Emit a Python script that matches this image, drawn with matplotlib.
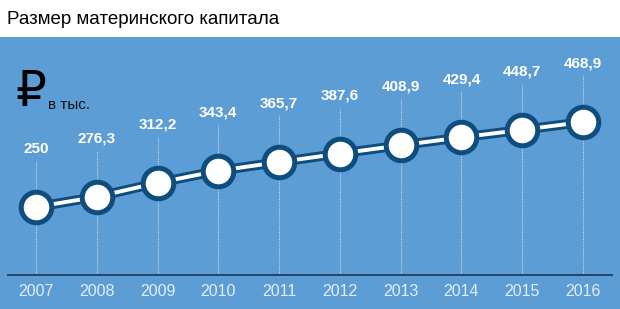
import numpy as np
import matplotlib
matplotlib.use("Agg")
import matplotlib.pyplot as plt

# данные
years = [2007, 2008, 2009, 2010, 2011, 2012, 2013, 2014, 2015, 2016]
values = [250, 276.3, 312.2, 343.4, 365.7, 387.6, 408.9, 429.4, 448.7, 468.9]
value_labels = ["250", "276,3", "312,2", "343,4", "365,7",
                "387,6", "408,9", "429,4", "448,7", "468,9"]

BLUE = "#5d9dd5"
NAVY = "#0f4d7e"
BASE = "#1e3d5e"

plt.rcParams["font.family"] = ["Liberation Sans", "DejaVu Sans"]

W, H = 620, 309
fig = plt.figure(figsize=(W / 100, H / 100), dpi=100)
fig.patch.set_facecolor("white")

# синяя панель
panel_top = 37
ax = fig.add_axes([0, 0, 1, (H - panel_top) / H])
ax.set_facecolor(BLUE)
for s in ax.spines.values():
    s.set_visible(False)
ax.set_xticks([])
ax.set_yticks([])

# масштаб: 2007 -> x=36px, 2016 -> x=583px; 250 -> y=207px, 468.9 -> y=122px
px_per_year = (583 - 36) / 9
ax.set_xlim(2007 - 36 / px_per_year, 2016 + (W - 583) / px_per_year)
u_per_px = (468.9 - 250) / (207 - 122)
ax.set_ylim(250 - (H - 207) * u_per_px, 468.9 + (122 - panel_top) * u_per_px)

baseline = 250 - (275 - 207) * u_per_px
ax.plot([2007 - 29 / px_per_year, 2016 + 30 / px_per_year], [baseline, baseline],
        color=BASE, lw=1.3, solid_capstyle="butt", zorder=2)

# тонкие вертикальные линии
ax.vlines(years, baseline, [v + 46 * u_per_px for v in values],
          colors="white", lw=0.8, alpha=0.6, linestyles=(0, (1, 1)), zorder=1)

# линия с обводкой и кружки
ax.plot(years, values, color=NAVY, lw=7, solid_capstyle="round", zorder=3)
ax.plot(years, values, color="white", lw=2.8, zorder=4)
ax.plot(years, values, "o", ms=22, mfc="white", mec=NAVY, mew=3.6, zorder=5)

for x, v, lbl in zip(years, values, value_labels):
    ax.annotate(lbl, (x, v), xytext=(0, 42), textcoords="offset points",
                ha="center", va="center", color="white", fontsize=11,
                fontweight="bold", zorder=6)
    ax.text(x, 250 - (291 - 207) * u_per_px, str(x), ha="center", va="center",
            color="#e4edf7", fontsize=11.5, zorder=6)

# знак рубля и подпись
fig.text(15 / W, 1 - 92 / H, "\u20bd", fontsize=35,
         family=["DejaVu Sans"], ha="left", va="center", color="black")
fig.text(48 / W, 1 - 105 / H, "в тыс.", fontsize=11, ha="left", va="center",
         color="#111111")

# заголовок
fig.text(7 / W, 1 - 19 / H, "Размер материнского капитала", fontsize=13.5,
         ha="left", va="center", color="black")

fig.savefig("out.png", dpi=100, facecolor="white")
